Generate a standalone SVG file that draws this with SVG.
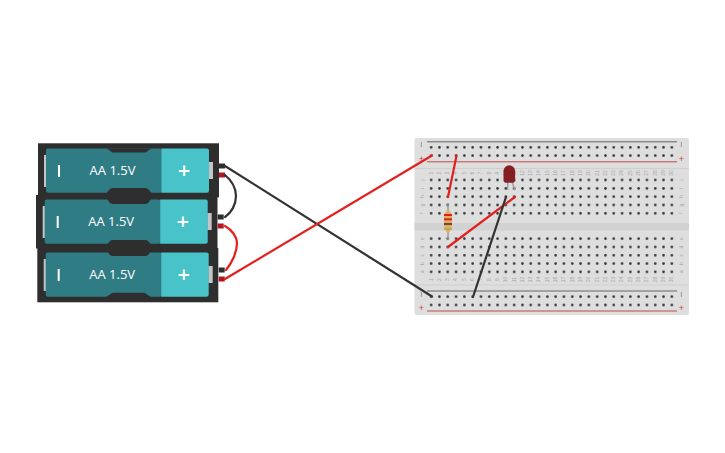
<svg xmlns="http://www.w3.org/2000/svg" width="725" height="453" viewBox="0 0 725 453">
<style>
.holder{fill:#2e2e2e}
.cell{fill:#2f7c85}
.plus{fill:#47c3c9}
.term{fill:#c4c4c4}
.sym{fill:#fff;font:600 22px "Open Sans","Liberation Sans",sans-serif;text-anchor:middle}
.lab{fill:#fff;font:13px "Open Sans","Liberation Sans",sans-serif;text-anchor:middle}
.tb{fill:#2e2e2e}
.tr{fill:#b3161c}
.w{fill:none;stroke-width:2.200;stroke-linecap:round;stroke-linejoin:round}
.r{stroke:#e2211f}
.k{stroke:#333}
.n{fill:#a6a6a6;font:5px "Liberation Sans",sans-serif;text-anchor:middle}
.rs{fill:#c44;font:9px "Liberation Sans",sans-serif;text-anchor:middle}
</style>
<defs>
<pattern id="holes" patternUnits="userSpaceOnUse" x="427" y="0" width="8.3" height="8.3">
<circle cx="4.15" cy="4.15" r="1.300" fill="#2f3336"/>
</pattern>
<rect id="row" x="427" y="0" width="249" height="8.300" fill="url(#holes)"/>
<g id="cellg">
<rect class="term" x="44" y="155" width="2.500" height="32"/>
<rect class="term" x="208.500" y="162" width="4.500" height="17"/>
<rect class="cell" x="46" y="148.400" width="116" height="44.400" rx="2"/>
<path class="plus" d="M161.500 148.400H207a2 2 0 0 1 2 2V190.800a2 2 0 0 1-2 2H161.500Z"/>
<rect fill="#fff" x="58" y="165" width="2" height="12"/>
<text class="sym" x="184" y="178">+</text>
<text class="lab" x="112.500" y="175">AA 1.5V</text>
<rect class="tb" x="219" y="163.500" width="6" height="5"/>
<rect class="tr" x="219" y="172.500" width="6" height="5"/>
</g>
</defs>

<g id="battery-top">
<rect class="holder" x="38" y="143.300" width="181" height="54"/>
<use href="#cellg"/>
<path class="holder" d="M107 148.400h44l-4 3a4 4 0 0 1-3 1.200h-30a4 4 0 0 1-3-1.200Z"/>
</g>
<g id="battery-middle">
<rect class="holder" x="36" y="195" width="181.500" height="53.500"/>
<use href="#cellg" x="-1.300" y="51"/>
</g>
<g id="battery-bottom">
<rect class="holder" x="37.300" y="248" width="181" height="54.300"/>
<use href="#cellg" x="-0.300" y="104"/>
<path class="holder" d="M106 297.300h45l-5-3.500a4 4 0 0 0-3-1h-29a4 4 0 0 0-3 1Z"/>
<path class="holder" d="M105 195l4-5a5 5 0 0 1 3-2h34a5 5 0 0 1 3 2l4 5-4 7a5 5 0 0 1-3 2h-34a5 5 0 0 1-3-2Z"/>
<path class="holder" d="M105 247l4-5a5 5 0 0 1 3-2h34a5 5 0 0 1 3 2l4 5-4 7a5 5 0 0 1-3 2h-34a5 5 0 0 1-3-2Z"/>
</g>

<g id="breadboard">
<rect x="414.500" y="138" width="274.500" height="177" rx="2" fill="#dedede"/>
<rect x="414.500" y="223" width="274.500" height="7.500" fill="#d2d2d2"/>
<path d="M414.500 168.500H689M414.500 285H689" stroke="#cfcfcf" stroke-width="1"/>
<path d="M427 141.800H677M427 291H677" stroke="#666" stroke-width="1"/>
<path d="M427 161.800H677M427 311H677" stroke="#bf4a4a" stroke-width="1"/>
<use href="#row" y="143.200"/>
<use href="#row" y="151.500"/>
<use href="#row" y="175.850"/>
<use href="#row" y="184.300"/>
<use href="#row" y="192.550"/>
<use href="#row" y="200.850"/>
<use href="#row" y="209.150"/>
<use href="#row" y="234.550"/>
<use href="#row" y="242.850"/>
<use href="#row" y="251.150"/>
<use href="#row" y="259.450"/>
<use href="#row" y="267.750"/>
<use href="#row" y="292.550"/>
<use href="#row" y="300.850"/>
<rect x="420.900" y="142" width="0.800" height="5" fill="#888"/>
<rect x="680.900" y="142" width="0.800" height="5" fill="#888"/>
<rect x="420.900" y="292" width="0.800" height="5" fill="#888"/>
<rect x="680.900" y="292" width="0.800" height="5" fill="#888"/>
<text class="rs" x="421.500" y="162">+</text>
<text class="rs" x="681.500" y="162">+</text>
<text class="rs" x="421.500" y="311">+</text>
<text class="rs" x="681.500" y="311">+</text>
<g id="col-top">
<text class="n" transform="translate(432.500 173) rotate(-90)">1</text><text class="n" transform="translate(440.800 173) rotate(-90)">2</text><text class="n" transform="translate(449.100 173) rotate(-90)">3</text><text class="n" transform="translate(457.400 173) rotate(-90)">4</text><text class="n" transform="translate(465.700 173) rotate(-90)">5</text><text class="n" transform="translate(474 173) rotate(-90)">6</text><text class="n" transform="translate(482.300 173) rotate(-90)">7</text><text class="n" transform="translate(490.600 173) rotate(-90)">8</text><text class="n" transform="translate(498.900 173) rotate(-90)">9</text><text class="n" transform="translate(507.200 173) rotate(-90)">10</text><text class="n" transform="translate(515.500 173) rotate(-90)">11</text><text class="n" transform="translate(523.800 173) rotate(-90)">12</text><text class="n" transform="translate(532.100 173) rotate(-90)">13</text><text class="n" transform="translate(540.400 173) rotate(-90)">14</text><text class="n" transform="translate(548.700 173) rotate(-90)">15</text><text class="n" transform="translate(557 173) rotate(-90)">16</text><text class="n" transform="translate(565.300 173) rotate(-90)">17</text><text class="n" transform="translate(573.600 173) rotate(-90)">18</text><text class="n" transform="translate(581.900 173) rotate(-90)">19</text><text class="n" transform="translate(590.200 173) rotate(-90)">20</text><text class="n" transform="translate(598.500 173) rotate(-90)">21</text><text class="n" transform="translate(606.800 173) rotate(-90)">22</text><text class="n" transform="translate(615.100 173) rotate(-90)">23</text><text class="n" transform="translate(623.400 173) rotate(-90)">24</text><text class="n" transform="translate(631.700 173) rotate(-90)">25</text><text class="n" transform="translate(640 173) rotate(-90)">26</text><text class="n" transform="translate(648.300 173) rotate(-90)">27</text><text class="n" transform="translate(656.600 173) rotate(-90)">28</text><text class="n" transform="translate(664.900 173) rotate(-90)">29</text><text class="n" transform="translate(673.200 173) rotate(-90)">30</text>
</g>
<g id="col-bottom">
<text class="n" transform="translate(432.500 279.500) rotate(-90)">1</text><text class="n" transform="translate(440.800 279.500) rotate(-90)">2</text><text class="n" transform="translate(449.100 279.500) rotate(-90)">3</text><text class="n" transform="translate(457.400 279.500) rotate(-90)">4</text><text class="n" transform="translate(465.700 279.500) rotate(-90)">5</text><text class="n" transform="translate(474 279.500) rotate(-90)">6</text><text class="n" transform="translate(482.300 279.500) rotate(-90)">7</text><text class="n" transform="translate(490.600 279.500) rotate(-90)">8</text><text class="n" transform="translate(498.900 279.500) rotate(-90)">9</text><text class="n" transform="translate(507.200 279.500) rotate(-90)">10</text><text class="n" transform="translate(515.500 279.500) rotate(-90)">11</text><text class="n" transform="translate(523.800 279.500) rotate(-90)">12</text><text class="n" transform="translate(532.100 279.500) rotate(-90)">13</text><text class="n" transform="translate(540.400 279.500) rotate(-90)">14</text><text class="n" transform="translate(548.700 279.500) rotate(-90)">15</text><text class="n" transform="translate(557 279.500) rotate(-90)">16</text><text class="n" transform="translate(565.300 279.500) rotate(-90)">17</text><text class="n" transform="translate(573.600 279.500) rotate(-90)">18</text><text class="n" transform="translate(581.900 279.500) rotate(-90)">19</text><text class="n" transform="translate(590.200 279.500) rotate(-90)">20</text><text class="n" transform="translate(598.500 279.500) rotate(-90)">21</text><text class="n" transform="translate(606.800 279.500) rotate(-90)">22</text><text class="n" transform="translate(615.100 279.500) rotate(-90)">23</text><text class="n" transform="translate(623.400 279.500) rotate(-90)">24</text><text class="n" transform="translate(631.700 279.500) rotate(-90)">25</text><text class="n" transform="translate(640 279.500) rotate(-90)">26</text><text class="n" transform="translate(648.300 279.500) rotate(-90)">27</text><text class="n" transform="translate(656.600 279.500) rotate(-90)">28</text><text class="n" transform="translate(664.900 279.500) rotate(-90)">29</text><text class="n" transform="translate(673.200 279.500) rotate(-90)">30</text>
</g>
<g id="row-left">
<text class="n" transform="translate(424 180) rotate(-90)">j</text><text class="n" transform="translate(424 188.400) rotate(-90)">i</text><text class="n" transform="translate(424 196.700) rotate(-90)">h</text><text class="n" transform="translate(424 205) rotate(-90)">g</text><text class="n" transform="translate(424 213.300) rotate(-90)">f</text>
<text class="n" transform="translate(424 238.700) rotate(-90)">e</text><text class="n" transform="translate(424 247) rotate(-90)">d</text><text class="n" transform="translate(424 255.300) rotate(-90)">c</text><text class="n" transform="translate(424 263.600) rotate(-90)">b</text><text class="n" transform="translate(424 271.900) rotate(-90)">a</text>
</g>
<g id="row-right">
<text class="n" transform="translate(683 180) rotate(-90)">j</text><text class="n" transform="translate(683 188.400) rotate(-90)">i</text><text class="n" transform="translate(683 196.700) rotate(-90)">h</text><text class="n" transform="translate(683 205) rotate(-90)">g</text><text class="n" transform="translate(683 213.300) rotate(-90)">f</text>
<text class="n" transform="translate(683 238.700) rotate(-90)">e</text><text class="n" transform="translate(683 247) rotate(-90)">d</text><text class="n" transform="translate(683 255.300) rotate(-90)">c</text><text class="n" transform="translate(683 263.600) rotate(-90)">b</text><text class="n" transform="translate(683 271.900) rotate(-90)">a</text>
</g>
</g>

<g id="resistor">
<path d="M448 203V240" stroke="#9a9a9a" stroke-width="1.500"/>
<path d="M448 210c2 0 2 2 3 3 1 1 1 3 1 4v8c0 2-.5 3-1 4-1 1-1 4-3 4s-2-3-3-4c-.5-1-1-2-1-4v-8c0-1 0-3 1-4 1-1 1-3 3-3Z" fill="#d9b36c"/>
<rect x="444" y="214" width="8" height="2" fill="#e01f1f"/>
<rect x="444" y="218.300" width="8" height="2" fill="#e01f1f"/>
<rect x="444" y="223" width="8" height="2" fill="#7a4a1e"/>
<rect x="444" y="228.300" width="8" height="1.500" fill="#c0a050"/>
</g>
<g id="led">
<path d="M507.700 182V190M512 182L515 190" stroke="#a0a0a0" stroke-width="1.500" fill="none"/>
<path d="M503.500 181V171a5.800 5.800 0 0 1 11.600 0V181l-1.500 1.800h-8.600Z" fill="#842024"/>
</g>

<g id="connectors">
<path class="w k" d="M225 166L432 296.500"/>
<path class="w k" d="M225 175C231 180 236 188 236 196C236 205 231 213 225 217"/>
<path class="w r" d="M225 226C232 230 237 237 237 243C237 252 232 263 226 270"/>
<path class="w r" d="M225 279L432 155.500"/>
<path class="w r" d="M456.500 155.700L448 197"/>
<path class="w r" d="M448 247L515 197"/>
<path class="w k" d="M473 297L506 197"/>
</g>
</svg>
